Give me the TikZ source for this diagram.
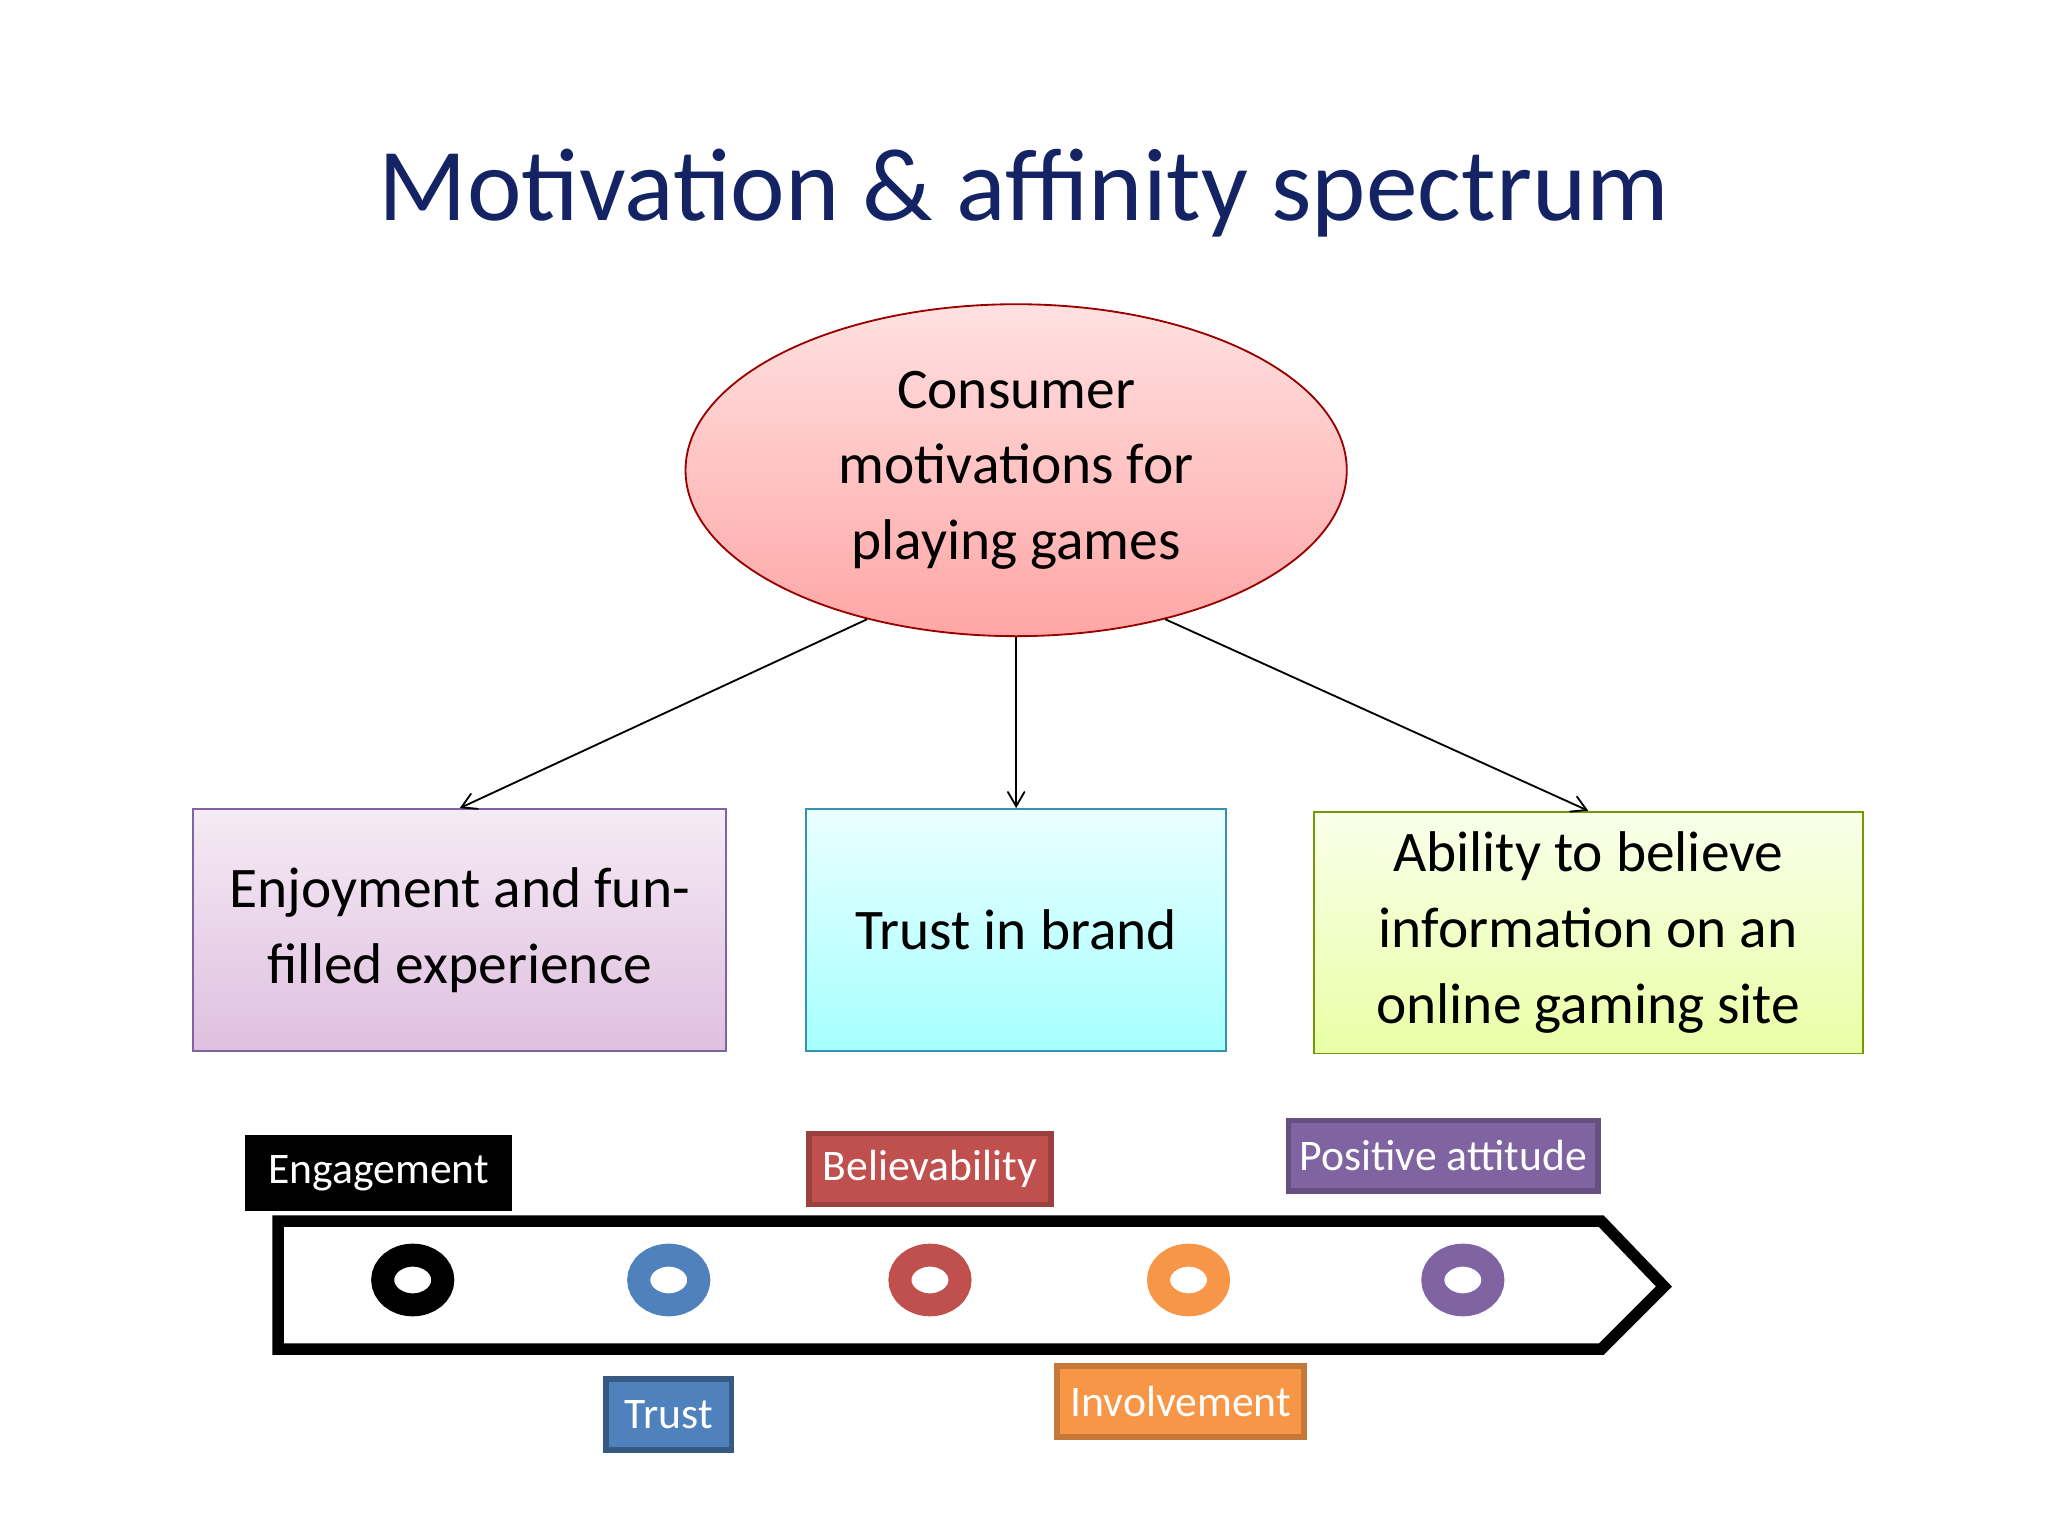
\documentclass[tikz,border=0pt]{standalone}
\usepackage{fontspec}
\setmainfont{Carlito}
\usetikzlibrary{shapes.geometric,arrows,positioning}
\definecolor{titleblue}{RGB}{20,35,100}
\definecolor{tagred}{RGB}{192,80,77}
\definecolor{tagblue}{RGB}{79,129,189}
\definecolor{tagorange}{RGB}{247,150,70}
\definecolor{tagpurple}{RGB}{128,100,162}
\tikzset{
  box/.style={draw, minimum height=1.85cm, align=center, font=\fontsize{12.5}{16.5}\selectfont},
  tag/.style={draw, line width=1.2pt, text=white, minimum height=0.54cm, inner sep=2pt, font=\fontsize{9.5}{11}\selectfont},
  ring/.style={line width=5pt, x radius=0.23cm, y radius=0.19cm}
}
\begin{document}
\begin{tikzpicture}[x=0.01cm,y=-0.01cm]
\useasboundingbox (0,0) rectangle (1568,1176);

\node[text=titleblue, font=\fontsize{22.5}{27}\selectfont] (title) at (784,148) {Motivation \& affinity spectrum};

\node[draw=red!60!black, ellipse, minimum width=5.06cm, minimum height=2.54cm, inner sep=0pt,
  top color=red!12, bottom color=red!35, align=center, font=\fontsize{12.5}{16.5}\selectfont]
  (cons) at (778,360) {Consumer\\motivations for\\playing games};

\node[box, draw=tagpurple, top color=violet!8, bottom color=violet!25, minimum width=4.08cm] (enjoy) at (352,712) {Enjoyment and fun-\\filled experience};
\node[box, draw=cyan!70!black, top color=cyan!8, bottom color=cyan!35, minimum width=3.21cm] (trust) at (778,712) {Trust in brand};
\node[box, draw=lime!60!black, top color=lime!8, bottom color=lime!35, minimum width=4.20cm] (able) at (1216,714) {Ability to believe\\information on an\\online gaming site};

\draw[->, >=angle 60] (cons.-135) -- (enjoy.north);
\draw[->, >=angle 60] (cons.south) -- (trust.north);
\draw[->, >=angle 60] (cons.-45) -- (able.north);

% spectrum arrow
\draw[line width=2.5pt] (213,935) -- (1226,935) -- (1274,985) -- (1226,1033) -- (213,1033) -- cycle;

\draw[ring, black] (316,980) ellipse [];
\draw[ring, tagblue] (512,980) ellipse [];
\draw[ring, tagred] (712,980) ellipse [];
\draw[ring, tagorange] (910,980) ellipse [];
\draw[ring, tagpurple] (1120,980) ellipse [];

\node[tag, fill=black, draw=black, minimum width=2.0cm] (eng) at (290,898) {Engagement};
\node[tag, fill=tagred, draw=tagred!80!black, minimum width=1.85cm] (bel) at (712,895) {Believability};
\node[tag, fill=tagpurple, draw=tagpurple!80!black, minimum width=2.37cm] (pos) at (1105,885) {Positive attitude};
\node[tag, fill=tagblue, draw=tagblue!70!black, minimum width=0.96cm] (tru) at (512,1083) {Trust};
\node[tag, fill=tagorange, draw=tagorange!80!black, minimum width=1.89cm] (inv) at (904,1073) {Involvement};
\end{tikzpicture}
\end{document}
